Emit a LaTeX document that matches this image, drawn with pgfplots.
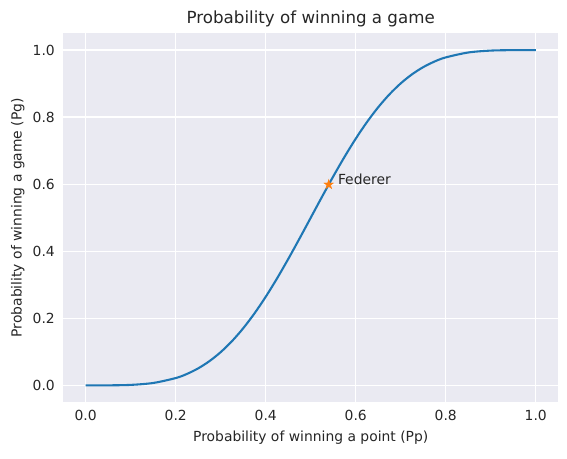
\documentclass[border=0pt]{standalone}
\usepackage{pgfplots}
\pgfplotsset{compat=1.18}
\usepackage{fontspec}
\setmainfont{DejaVu Sans}
\definecolor{bgc}{HTML}{EAEAF2}
\definecolor{tabblue}{HTML}{1F77B4}
\definecolor{taborange}{HTML}{FF7F0E}
\definecolor{txt}{HTML}{262626}
\pgfdeclareplotmark{fstar}{%
  \pgfpathmoveto{\pgfpointpolar{90}{\pgfplotmarksize}}%
  \pgfpathlineto{\pgfpointpolar{126}{0.382\pgfplotmarksize}}%
  \pgfpathlineto{\pgfpointpolar{162}{\pgfplotmarksize}}%
  \pgfpathlineto{\pgfpointpolar{198}{0.382\pgfplotmarksize}}%
  \pgfpathlineto{\pgfpointpolar{234}{\pgfplotmarksize}}%
  \pgfpathlineto{\pgfpointpolar{270}{0.382\pgfplotmarksize}}%
  \pgfpathlineto{\pgfpointpolar{306}{\pgfplotmarksize}}%
  \pgfpathlineto{\pgfpointpolar{342}{0.382\pgfplotmarksize}}%
  \pgfpathlineto{\pgfpointpolar{18}{\pgfplotmarksize}}%
  \pgfpathlineto{\pgfpointpolar{54}{0.382\pgfplotmarksize}}%
  \pgfpathclose
  \pgfusepathqfillstroke
}
\begin{document}
\begin{tikzpicture}
\path[use as bounding box] (-45.5pt,-40.5pt) rectangle (362.7pt,265.5pt+24pt);
\begin{axis}[
  scale only axis,
  width=356.4pt, height=265.5pt,
  xmin=-0.05, xmax=1.05, ymin=-0.05, ymax=1.05,
  axis background/.style={fill=bgc},
  axis line style={draw=none},
  major tick length=0pt,
  xtick={0,0.2,0.4,0.6,0.8,1.0},
  ytick={0,0.2,0.4,0.6,0.8,1.0},
  xticklabels={0.0,0.2,0.4,0.6,0.8,1.0},
  yticklabels={0.0,0.2,0.4,0.6,0.8,1.0},
  grid=major,
  major grid style={white, line width=1pt},
  tick label style={font=\fontsize{10}{12}\selectfont, text=txt},
  /pgf/number format/assume math mode=true,
  xticklabel style={yshift=-2.5pt},
  yticklabel style={xshift=-2.5pt},
  xlabel={Probability of winning a point (Pp)},
  ylabel={Probability of winning a game (Pg)},
  label style={font=\fontsize{10}{12}\selectfont, text=txt},
  xlabel style={yshift=0pt},
  ylabel style={yshift=-1pt},
  title={Probability of winning a game},
  title style={font=\fontsize{12}{14}\selectfont, text=txt, yshift=-5pt},
  clip=false,
]
\addplot[tabblue, line width=1.5pt, smooth, tension=0.5] coordinates {
(0,0) (0.05,0.0000924) (0.1,0.001448) (0.15,0.007137) (0.2,0.02178)
(0.225,0.03414) (0.25,0.05078) (0.275,0.07230) (0.3,0.09921) (0.325,0.13185)
(0.35,0.17036) (0.375,0.21462) (0.4,0.26427) (0.425,0.31865) (0.45,0.37685)
(0.475,0.43773) (0.5,0.5) (0.525,0.56227) (0.55,0.62315) (0.575,0.68135)
(0.6,0.73573) (0.625,0.78538) (0.65,0.82964) (0.675,0.86815) (0.7,0.90079)
(0.725,0.92770) (0.75,0.94922) (0.775,0.96586) (0.8,0.97822) (0.85,0.99286)
(0.9,0.99855) (0.95,0.99991) (1.0,1.0)
};
\addplot[only marks, mark=fstar, mark size=3.6pt, taborange, mark options={line width=0.3pt, fill=taborange, draw=taborange}] coordinates {(0.54,0.599)};
\node[anchor=base west, inner sep=0pt, font=\fontsize{10}{12}\selectfont, text=txt] at (axis cs:0.56,0.6) {Federer};
\end{axis}
\end{tikzpicture}
\end{document}
